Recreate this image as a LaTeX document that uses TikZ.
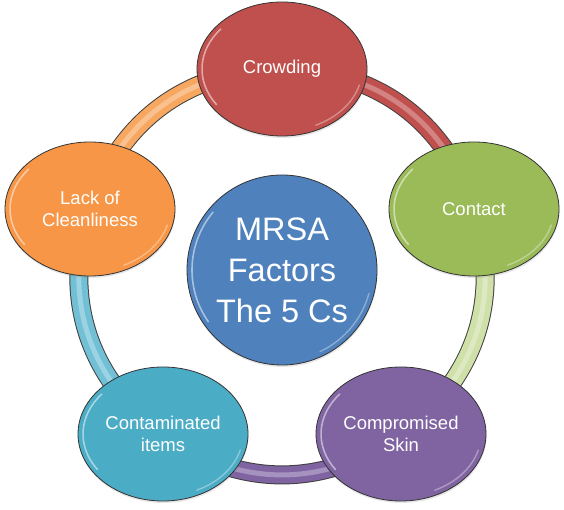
\documentclass[tikz,border=0pt]{standalone}
\usepackage{fontspec}
\setmainfont{Liberation Sans}
\usetikzlibrary{shapes.geometric,backgrounds,shadows}
\definecolor{cred}{HTML}{C0504D}
\definecolor{cgreen}{HTML}{9BBB59}
\definecolor{cgreenl}{HTML}{CFE0A8}
\definecolor{cpurple}{HTML}{8064A2}
\definecolor{ccyan}{HTML}{4BACC6}
\definecolor{ccyanl}{HTML}{72C0D6}
\definecolor{corange}{HTML}{F79646}
\definecolor{corangel}{HTML}{F8A760}
\definecolor{cblue}{HTML}{4F81BD}
\newcommand\glossarc[3]{%
  \draw[white,opacity=.5,line width=1.6pt,line cap=round] (#1.center) ++(140:#2 and #3) arc[start angle=140,end angle=215,x radius=#2,y radius=#3];
  \draw[white,opacity=.35,line width=1.4pt,line cap=round] (#1.center) ++(295:#2 and #3) arc[start angle=295,end angle=345,x radius=#2,y radius=#3];}
\begin{document}
\begin{tikzpicture}[x=1pt,y=1pt,
  bubble/.style={ellipse, draw=black!80, line width=0.8pt, fill=#1,
    minimum width=170pt, minimum height=134pt, inner sep=0pt,
    text=white!94, font=\fontsize{18.5}{22}\selectfont, align=center,
    drop shadow={opacity=0.2, shadow xshift=0.5pt, shadow yshift=-2pt}},
  hub/.style={circle, draw=black!80, line width=0.8pt, fill=cblue,
    minimum size=190pt, inner sep=0pt, text=white!96,
    font=\fontsize{32.5}{41}\selectfont, align=center,
    drop shadow={opacity=0.2, shadow xshift=0.5pt, shadow yshift=-2pt}},
  ringseg/.style={draw=#1, line width=17pt,
    preaction={draw=black!75, line width=19pt},
    postaction={draw=white, draw opacity=.3, line width=5pt}}
]
\useasboundingbox (0,0) rectangle (564,510);
\node[hub] (hub) at (282,240) {MRSA\\Factors\\The 5 Cs};
\node[bubble=cred] (crowd) at (282,441) {Crowding};
\node[bubble=cgreen] (contact) at (474,301) {Contact};
\node[bubble=cpurple] (skin) at (401,76) {Compromised\\Skin};
\node[bubble=ccyan] (items) at (163,76) {Contaminated\\items};
\node[bubble=corange] (clean) at (90,301) {Lack of\\Cleanliness};
\glossarc{crowd}{80}{62}
\glossarc{contact}{80}{62}
\glossarc{skin}{80}{62}
\glossarc{items}{80}{62}
\glossarc{clean}{80}{62}
\glossarc{hub}{90}{90}
\begin{pgfonlayer}{background}
  \draw[ringseg=cred] (crowd.center) to[bend left=36] (contact.center);
  \draw[ringseg=cgreenl] (contact.center) to[bend left=36] (skin.center);
  \draw[ringseg=cpurple] (skin.center) to[bend left=36] (items.center);
  \draw[ringseg=ccyanl] (items.center) to[bend left=36] (clean.center);
  \draw[ringseg=corangel] (clean.center) to[bend left=36] (crowd.center);
\end{pgfonlayer}
\end{tikzpicture}
\end{document}
